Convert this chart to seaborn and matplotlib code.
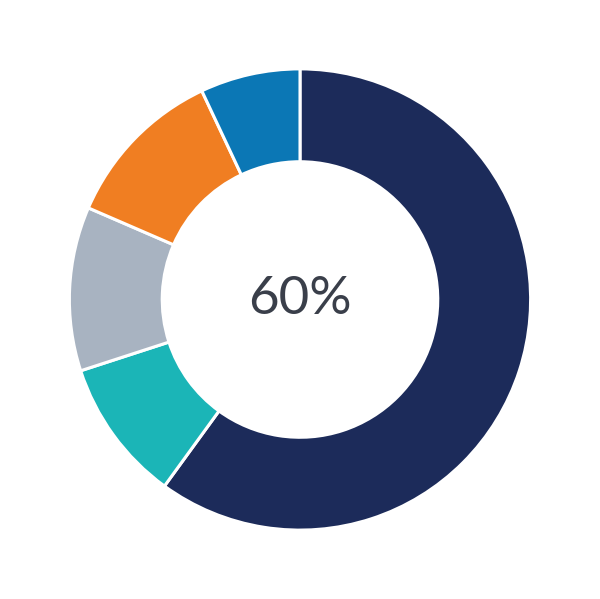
import matplotlib
matplotlib.use('Agg')
import matplotlib.pyplot as plt
import seaborn as sns

# Segment shares (percent), clockwise from 12 o'clock
segments = ['Navy', 'Teal', 'Gray', 'Orange', 'Blue']
shares = [60, 10, 11.5, 11.5, 7]
colors = ['#1c2b5a', '#1bb5b7', '#a8b3c1', '#f07e22', '#0b77b5']
center_label = '60%'

sns.set_style('white')
plt.rcParams['font.family'] = ['Lato', 'DejaVu Sans']

fig, ax = plt.subplots(figsize=(6.0, 5.99), dpi=100)
fig.subplots_adjust(left=0, right=1, bottom=0, top=1)

ax.pie(shares, colors=colors, startangle=90, counterclock=False,
       radius=0.77,
       wedgeprops=dict(width=0.31, edgecolor='white', linewidth=2.2))
ax.text(0, 0, center_label, ha='center', va='center', fontsize=38,
        color='#3a3f4a')
ax.set_xlim(-1, 1)
ax.set_ylim(-1, 1)
ax.set_aspect('equal')
ax.axis('off')

fig.savefig('out.png', dpi=100, facecolor='white')
